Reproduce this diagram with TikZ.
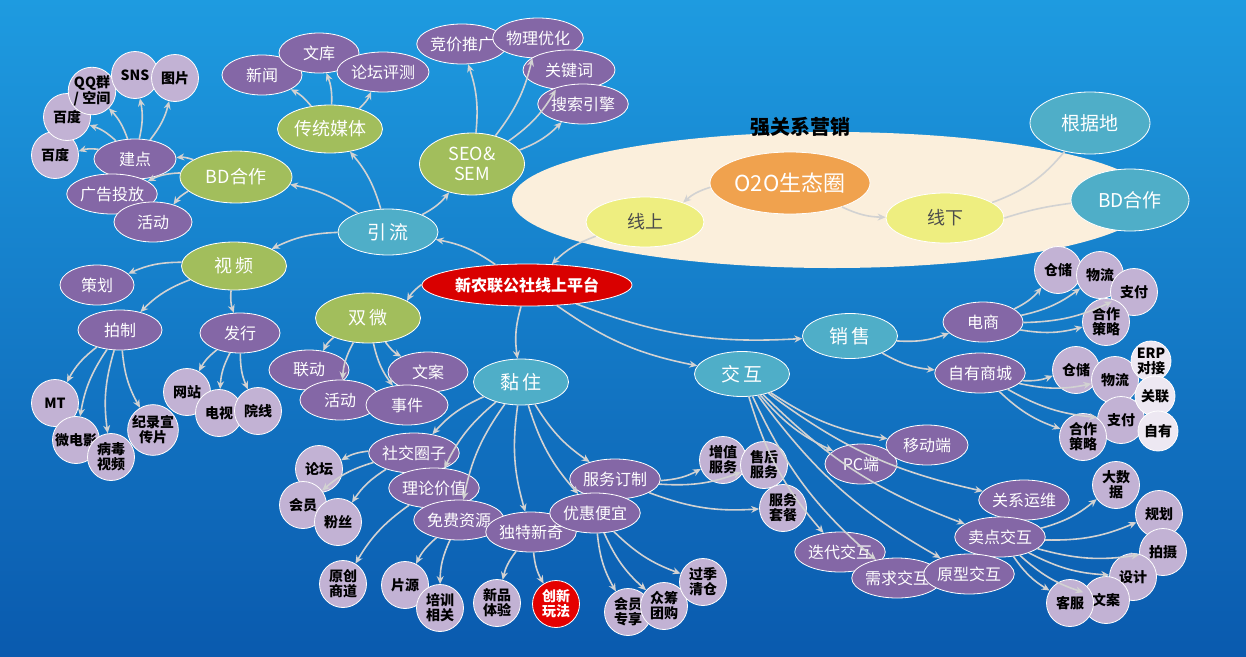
\documentclass[tikz,border=0pt]{standalone}
\usepackage{fontspec}
\setmainfont{Noto Sans CJK SC}
\usetikzlibrary{shapes.geometric,arrows.meta}
\definecolor{bgtop}{HTML}{1E9BE0}
\definecolor{bgbot}{HTML}{0A5AAE}
\definecolor{grn}{HTML}{A2BE5C}
\definecolor{tealc}{HTML}{4FAEC8}
\definecolor{purp}{HTML}{8467A6}
\definecolor{lpur}{HTML}{C2B2D4}
\definecolor{pale}{HTML}{EDE8F2}
\definecolor{cream}{HTML}{FBEFDC}
\definecolor{orng}{HTML}{F0A24E}
\definecolor{yel}{HTML}{EEEE80}
\tikzstyle{bubble}=[ellipse, draw=white, line width=0.8pt, inner sep=0pt, align=center]
\tikzstyle{gnode}=[bubble, fill=grn, text=white, font=\fontsize{18}{20}\selectfont]
\tikzstyle{tnode}=[bubble, fill=tealc, text=white, font=\fontsize{18}{20}\selectfont]
\tikzstyle{pnode}=[bubble, fill=purp, text=white, font=\fontsize{16}{18}\selectfont]
\tikzstyle{cnode}=[circle, draw=white, line width=0.8pt, fill=lpur, inner sep=0pt, align=center, font=\bfseries\fontsize{14}{15}\selectfont]
\tikzstyle{wnode}=[cnode, fill=pale]
\tikzstyle{arrowline}=[draw=gray!35, line width=1.6pt, -{Stealth[length=8pt,width=7pt]}]
\tikzstyle{plainline}=[draw=gray!35, line width=1.6pt]

\begin{document}
\begin{tikzpicture}[x=1pt, y=-1pt]
    \shade[top color=bgtop, bottom color=bgbot] (0,0) rectangle (1246,656);
    \useasboundingbox (0,0) rectangle (1246,656);

    % strong relation marketing
    \fill[cream] (832,200) ellipse (320 and 68);
    \node[font=\bfseries\fontsize{20}{22}\selectfont] (title) at (800,127) {强关系营销};
    \node[bubble, fill=orng, text=white, minimum width=160pt, minimum height=62pt, font=\fontsize{22}{24}\selectfont] (o2o) at (790,183) {O2O生态圈};
    \node[bubble, fill=yel, text=black!70, minimum width=118pt, minimum height=50pt, font=\fontsize{18}{20}\selectfont] (online) at (645,222) {线上};
    \node[bubble, fill=yel, text=black!70, minimum width=118pt, minimum height=50pt, font=\fontsize{18}{20}\selectfont] (offline) at (945,218) {线下};
    \node[bubble, fill=red!85!black, text=white, minimum width=210pt, minimum height=42pt, font=\bfseries\fontsize{16}{18}\selectfont] (hub) at (527,285) {新农联公社线上平台};

    % green and teal nodes
    \foreach \name/\x/\y/\w/\h/\txt in {
        media/330/129/105/48/传统媒体,
        seo/472/164/105/62/{SEO\&\\SEM},
        bdl/236/177/112/52/BD合作,
        video/234/266/105/48/视\,频,
        weibo/368/318/105/50/双\,微}
        \node[gnode, minimum width=\w pt, minimum height=\h pt] (\name) at (\x,\y) {\txt};
    \foreach \name/\x/\y/\w/\h/\txt in {
        flow/388/232/100/46/引\,流,
        stick/521/382/95/46/黏\,住,
        inter/742/374/95/45/交\,互,
        sale/850/336/95/45/销\,售,
        home/1090/123/120/62/根据地,
        bdr/1130/200/118/62/BD合作}
        \node[tnode, minimum width=\w pt, minimum height=\h pt, font=\fontsize{19}{21}\selectfont] (\name) at (\x,\y) {\txt};

    % purple nodes
    \foreach \name/\x/\y/\w/\txt in {
        news/262/75/80/新闻, lib/319/53/80/文库, forum/383/72/92/论坛评测,
        bid/462/44/86/竞价推广, phys/538/38/80/物理优化, key/569/70/92/关键词, search/583/104/90/搜索引擎,
        build/135/159/82/建点, ads/112/194/80/广告投放, act/153/222/78/活动,
        plan/97/285/74/策划, shoot/120/330/84/拍制, issue/240/333/80/发行,
        joint/309/370/80/联动, copy/428/372/80/文案, act2/340/400/80/活动, event/407/405/82/事件,
        social/414/453/84/社交圈子, theory/434/488/84/理论价值, free/459/520/82/免费资源,
        unique/531/532/84/独特新奇, custom/615/479/84/服务订制, cheap/595/513/84/优惠便宜,
        pc/861/464/72/PC端, mobile/927/445/82/移动端, rel/1024/500/84/关系运维,
        sell/1000/537/84/卖点交互, iter/840/552/84/迭代交互, need/897/578/84/需求交互, proto/969/574/84/原型交互,
        shop/983/322/80/电商, mall/980/373/86/自有商城}
        \node[pnode, minimum width=\w pt, minimum height=40pt] (\name) at (\x,\y) {\txt};

    % circles
    \foreach \name/\x/\y/\txt in {
        bd1/55/155/百度, bd2/67/117/百度, qq/92/91/{QQ群\\/ 空间}, sns/135/75/SNS, pic/175/78/图片,
        mt/55/403/MT, micro/76/440/微电影, viral/111/457/{病毒\\视频}, doc/153/430/{纪录宣\\传片},
        web/187/392/网站, tv/219/413/电视, cinema/258/411/院线,
        bbs/319/469/论坛, member/303/505/会员, fans/338/522/粉丝, orig/343/584/{原创\\商道},
        film/405/585/片源, train/440/608/{培训\\相关}, newp/497/603/{新品\\体验},
        vip/628/612/{会员\\专享}, crowd/664/606/{众筹\\团购}, season/703/582/{过季\\清仓},
        value/723/460/{增值\\服务}, after/764/465/{售后\\服务}, pack/783/508/{服务\\套餐},
        st1/1058/270/仓储, lg1/1100/275/物流, pay1/1134/292/支付, co1/1106/322/{合作\\策略},
        st2/1076/370/仓储, lg2/1115/380/物流, pay2/1121/420/支付, co2/1083/437/{合作\\策略},
        data/1116/485/{大数\\据}, prog/1159/514/规划, photo/1163/552/拍摄,
        design/1133/577/设计, wcopy/1106/600/文案, serv/1070/603/客服}
        \node[cnode, minimum size=47pt] (\name) at (\x,\y) {\txt};
    \node[cnode, fill=red!90!black, text=white, minimum size=47pt] (novel) at (556,604) {创新\\玩法};
    \foreach \name/\x/\y/\txt in {
        erp/1151/361/{ERP\\对接}, assoc/1155/396/关联, own/1158/431/自有}
        \node[wnode, minimum size=40pt] (\name) at (\x,\y) {\txt};

    % connect nodes with arrows
    \foreach \a/\b in {hub/flow, hub/weibo, hub/stick, hub/inter, hub/sale, online/hub, o2o/online, o2o/offline,
        flow/media, flow/seo, flow/bdl, flow/video,
        media/news, media/lib, media/forum, seo/bid, seo/phys, seo/key, seo/search,
        bdl/build, bdl/ads, bdl/act, build/bd1, build/bd2, build/qq, build/sns, build/pic,
        video/plan, video/shoot, video/issue, shoot/mt, shoot/micro, shoot/viral, shoot/doc,
        issue/web, issue/tv, issue/cinema,
        weibo/joint, weibo/copy, weibo/act2, weibo/event,
        stick/social, stick/theory, stick/free, stick/unique, stick/custom, stick/cheap,
        social/bbs, social/member, social/fans, theory/orig, free/film, free/train,
        unique/newp, unique/novel, cheap/vip, cheap/crowd, cheap/season,
        custom/value, custom/after, custom/pack,
        inter/pc, inter/mobile, inter/rel, inter/sell, inter/iter, inter/need, inter/proto,
        sell/data, sell/prog, sell/photo, sell/design, sell/wcopy, sell/serv,
        sale/shop, sale/mall, shop/st1, shop/lg1, shop/pay1, shop/co1,
        mall/st2, mall/lg2, mall/pay2, mall/co2}
        \draw[arrowline] (\a) to[bend right=12] (\b);
    \draw[plainline] (offline) to[bend right=15] (home);
    \draw[plainline] (offline.east) to[bend left=5] (bdr);
\end{tikzpicture}
\end{document}
